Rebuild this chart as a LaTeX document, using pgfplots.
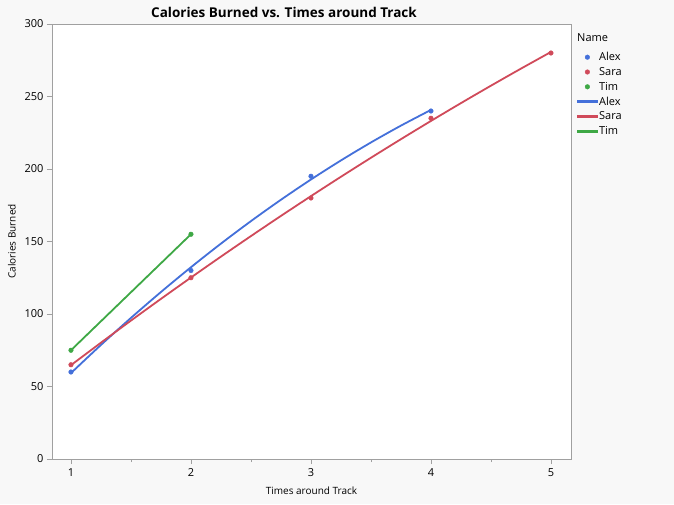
\documentclass[border=0pt]{standalone}
\usepackage{pgfplots}
\pgfplotsset{compat=1.18}
\usepackage{fontspec}
\setmainfont{Open Sans}
\definecolor{bg}{HTML}{F8F8F8}
\definecolor{alexc}{HTML}{4470DA}
\definecolor{sarac}{HTML}{D04A5A}
\definecolor{timc}{HTML}{3EA845}
\definecolor{framec}{HTML}{A0A0A0}
\begin{document}
\begin{tikzpicture}[x=1pt,y=1pt]
\fill[bg] (0,0) rectangle (674,504);
\begin{axis}[name=ax,
  at={(52pt,45pt)}, anchor=south west, scale only axis,
  width=519pt, height=435pt,
  xmin=0.842, xmax=5.167, ymin=0, ymax=300,
  axis background/.style={fill=white},
  axis line style={framec},
  tick align=outside, xtick pos=bottom, ytick pos=left,
  major tick length=5pt, minor tick length=3pt,
  every tick/.style={framec},
  xtick={1,2,3,4,5}, minor xtick={1.5,2.5,3.5,4.5},
  ytick={0,50,100,150,200,250,300},
  /pgf/number format/assume math mode=true,
  tick label style={font=\fontsize{11}{13}\selectfont},
  xticklabel style={yshift=-1pt},
  xlabel={Times around Track}, ylabel={Calories Burned},
  label style={font=\fontsize{11}{13}\selectfont},
  every axis x label/.style={at={(axis description cs:0.5,0)}, anchor=center, yshift=-32pt},
  every axis y label/.style={at={(axis description cs:0,0.5)}, xshift=-40pt, rotate=90, anchor=center},
  legend style={draw=none, fill=none, at={(axis description cs:1,1)}, anchor=north west,
    xshift=6pt, yshift=-25.6pt, inner sep=0pt, row sep=0pt,
    font=\fontsize{11}{13}\selectfont,
    nodes={inner sep=1.5pt, minimum height=14.8pt}},
  legend cell align=left,
]
% points
\addplot[forget plot, only marks, mark=*, mark size=2.3pt, color=alexc, mark options={draw=alexc, fill=alexc}] coordinates {(1,60) (2,130) (3,195) (4,240)};
\addplot[forget plot, only marks, mark=*, mark size=2.3pt, color=sarac, mark options={draw=sarac, fill=sarac}] coordinates {(1,65) (2,125) (3,180) (4,235) (5,280)};
\addplot[forget plot, only marks, mark=*, mark size=2.3pt, color=timc, mark options={draw=timc, fill=timc}] coordinates {(1,75) (2,155)};
% fitted curves
\addplot[forget plot, color=alexc, line width=1.8pt, smooth, mark=none] coordinates {
 (1,59.25) (1.25,78.67) (1.5,97.31) (1.75,115.17) (2,132.25) (2.25,148.55) (2.5,164.06)
 (2.75,178.80) (3,192.75) (3.25,205.92) (3.5,218.31) (3.75,229.92) (4,240.75)};
\addplot[forget plot, color=sarac, line width=1.8pt, smooth, mark=none] coordinates {
 (1,64.71) (1.25,80.22) (1.5,95.46) (1.75,110.44) (2,125.14) (2.25,139.58) (2.5,153.75)
 (2.75,167.65) (3,181.29) (3.25,194.65) (3.5,207.75) (3.75,220.58) (4,233.14)
 (4.25,245.44) (4.5,257.46) (4.75,269.22) (5,280.71)};
\addplot[forget plot, color=timc, line width=1.8pt, mark=none] coordinates {(1,75) (2,155)};
% legend
\addlegendimage{legend image code/.code={\fill[alexc] (10pt,0pt) circle[radius=2.3pt];}}
\addlegendentry{Alex}
\addlegendimage{legend image code/.code={\fill[sarac] (10pt,0pt) circle[radius=2.3pt];}}
\addlegendentry{Sara}
\addlegendimage{legend image code/.code={\fill[timc] (10pt,0pt) circle[radius=2.3pt];}}
\addlegendentry{Tim}
\addlegendimage{legend image code/.code={\fill[alexc] (0pt,-1pt) rectangle (20pt,1pt);}}
\addlegendentry{Alex}
\addlegendimage{legend image code/.code={\fill[sarac] (0pt,-1pt) rectangle (20pt,1pt);}}
\addlegendentry{Sara}
\addlegendimage{legend image code/.code={\fill[timc] (0pt,-1pt) rectangle (20pt,1pt);}}
\addlegendentry{Tim}
\end{axis}
\node[anchor=west, inner sep=0pt, font=\fontsize{11}{13}\selectfont] at ([xshift=6pt, yshift=-14pt]ax.north east) {Name};
\node[anchor=center, inner sep=0pt, font=\bfseries\fontsize{13.5}{16}\selectfont] at (284,492) {Calories Burned vs. Times around Track};
\end{tikzpicture}
\end{document}
